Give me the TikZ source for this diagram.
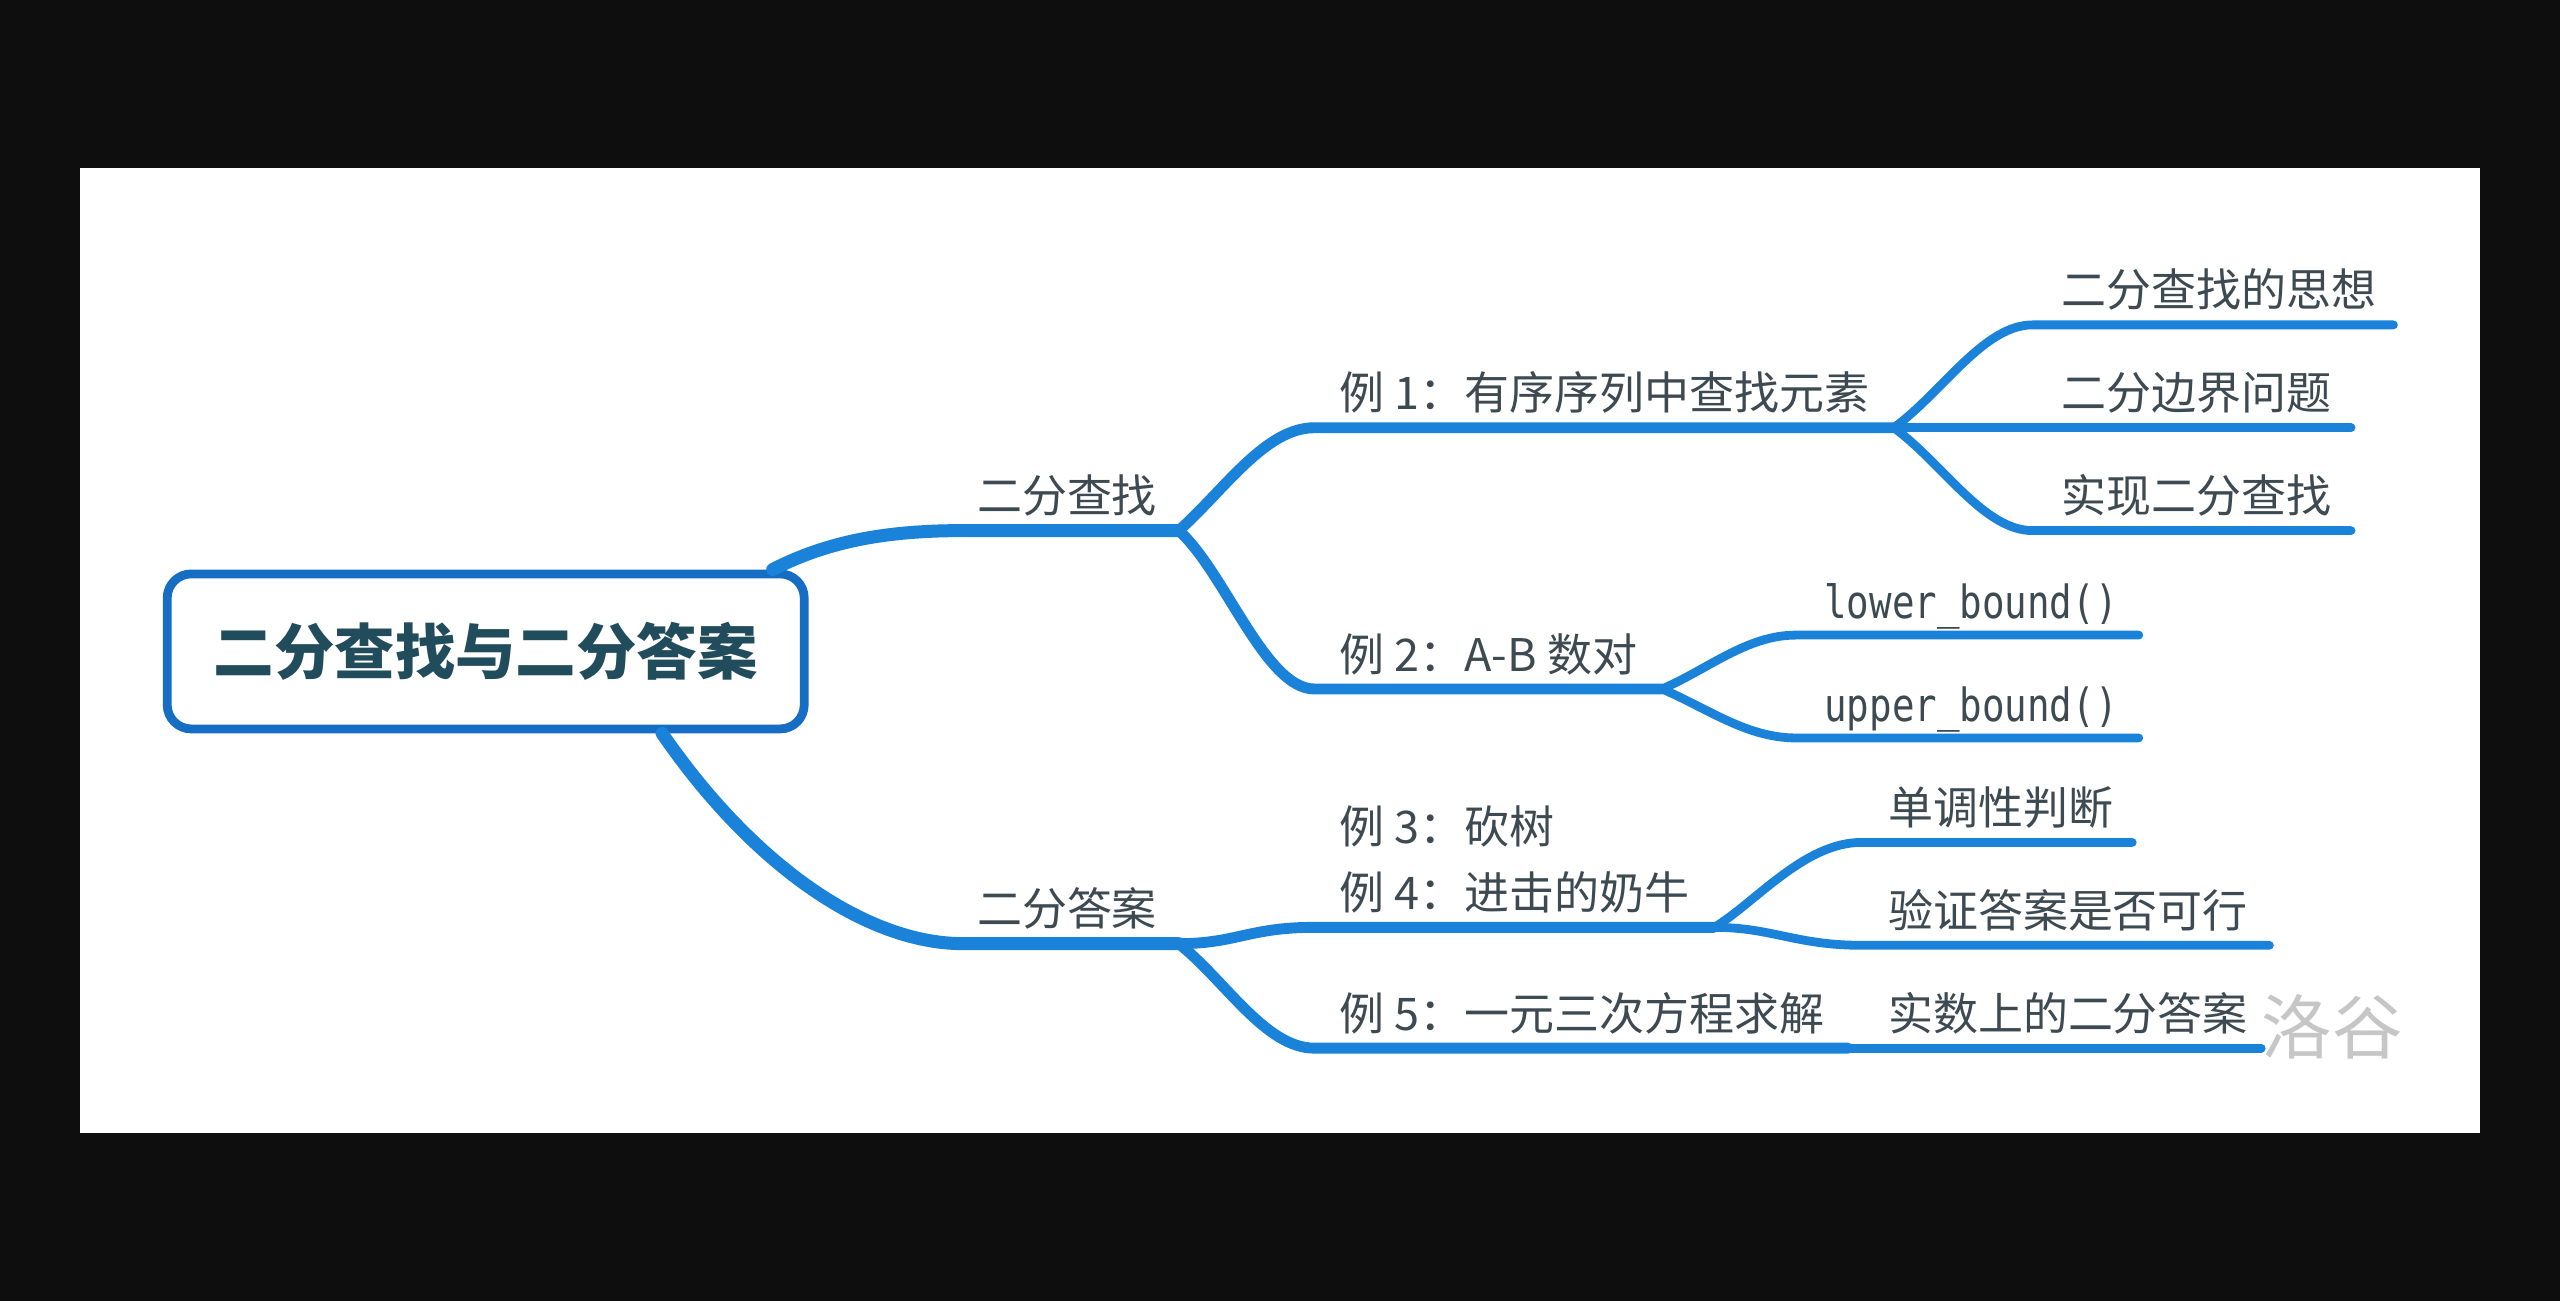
\documentclass[tikz,border=0pt]{standalone}
\usepackage{fontspec}
\usepackage{tikz}
\usetikzlibrary{positioning, calc}

\newfontfamily\cjk{Noto Sans CJK SC}
\newfontfamily\codefont{DejaVu Sans Mono}[FakeStretch=0.82]

\definecolor{framebg}{HTML}{0E0E0E}
\definecolor{lineblue}{HTML}{1A82D8}
\definecolor{rootblue}{HTML}{166EC4}
\definecolor{roottxt}{HTML}{214C5C}
\definecolor{txtgray}{HTML}{3D4A52}

\begin{document}
\begin{tikzpicture}[
	x=0.16327mm, y=-0.16327mm,
	font=\cjk,
	% Styles
	rootbox/.style={draw=rootblue, line width=2.5pt, rounded corners=2.4mm, fill=white, minimum width=63.7mm, minimum height=15.5mm, text=roottxt, font=\cjk\bfseries\fontsize{17.2}{20}\selectfont},
	topic/.style={anchor=base west, inner sep=0pt, text=txtgray, font=\cjk\fontsize{12.8}{19}\selectfont},
	code/.style={topic, font=\codefont\fontsize{13}{19}\selectfont},
	mainline/.style={draw=lineblue, line width=3.7pt, line cap=round},
	subline/.style={draw=lineblue, line width=3.1pt, line cap=round},
	leafline/.style={draw=lineblue, line width=2.5pt, line cap=round}
	]
	
	% --- Frame ---
	\useasboundingbox (0,0) rectangle (1568,797);
	\fill[framebg] (0,0) rectangle (1568,797);
	\fill[white] (49,103) rectangle (1519,694);
	
	% --- Root ---
	\node[rootbox] (root) at (297.5,399) {二分查找与二分答案};
	\coordinate (root-up) at ($(root.north east)+(-22,0)$);
	\coordinate (root-dn) at ($(root.south)+(108,0)$);
	
	% --- 1. 二分查找 ---
	\coordinate (search-s) at (590,325);
	\coordinate (search-e) at (722,325);
	\node[topic] (search) at (598,314) {二分查找};
	\draw[mainline] (root-up) .. controls +(35,-18) and +(-45,0) .. (search-s) -- (search-e);
	
	% example 1 and its leaves
	\coordinate (ex1-s) at (805,262);
	\coordinate (ex1-e) at (1160,262);
	\node[topic] (ex1) at (820,251) {例 1：有序序列中查找元素};
	\draw[subline] (search-e) .. controls +(28,-25) and +(-30,0) .. (ex1-s) -- (ex1-e);
	
	\coordinate (idea-s) at (1245,199);
	\coordinate (idea-e) at (1466,199);
	\coordinate (edge-e) at (1440,262);
	\coordinate (impl-s) at (1245,325);
	\coordinate (impl-e) at (1440,325);
	\node[topic] (idea) at (1262,188) {二分查找的思想};
	\node[topic] (edge) at (1262,251) {二分边界问题};
	\node[topic] (impl) at (1262,314) {实现二分查找};
	\draw[leafline] (ex1-e) .. controls +(30,-22) and +(-30,0) .. (idea-s) -- (idea-e);
	\draw[leafline] (ex1-e) -- (edge-e);
	\draw[leafline] (ex1-e) .. controls +(30,22) and +(-30,0) .. (impl-s) -- (impl-e);
	
	% example 2 and its leaves
	\coordinate (ex2-s) at (805,422);
	\coordinate (ex2-e) at (1018,422);
	\node[topic] (ex2) at (820,411) {例 2：A-B 数对};
	\draw[subline] (search-e) .. controls +(28,25) and +(-30,0) .. (ex2-s) -- (ex2-e);
	
	\coordinate (lower-s) at (1100,389);
	\coordinate (lower-e) at (1310,389);
	\coordinate (upper-s) at (1100,452);
	\coordinate (upper-e) at (1310,452);
	\node[code] (lower) at (1117,379) {lower\_bound()};
	\node[code] (upper) at (1117,442) {upper\_bound()};
	\draw[leafline] (ex2-e) .. controls +(28,-12) and +(-30,0) .. (lower-s) -- (lower-e);
	\draw[leafline] (ex2-e) .. controls +(28,12) and +(-30,0) .. (upper-s) -- (upper-e);
	
	% --- 2. 二分答案 ---
	\coordinate (answer-s) at (590,578);
	\coordinate (answer-e) at (722,578);
	\node[topic] (answer) at (598,567) {二分答案};
	\draw[mainline] (root-dn) .. controls +(55,80) and +(-60,0) .. (answer-s) -- (answer-e);
	
	% examples 3 and 4 share one topic
	\coordinate (ex34-s) at (805,568);
	\coordinate (ex34-e) at (1050,568);
	\node[topic, anchor=south west, align=left] (ex34) at (820,560) {例 3：砍树\\例 4：进击的奶牛};
	\draw[subline] (answer-e) .. controls +(35,0) and +(-40,0) .. (ex34-s) -- (ex34-e);
	
	\coordinate (mono-s) at (1140,516);
	\coordinate (mono-e) at (1306,516);
	\coordinate (check-s) at (1140,579);
	\coordinate (check-e) at (1390,579);
	\node[topic] (mono) at (1156,505) {单调性判断};
	\node[topic] (check) at (1156,568) {验证答案是否可行};
	\draw[leafline] (ex34-e) .. controls +(25,-15) and +(-35,0) .. (mono-s) -- (mono-e);
	\draw[leafline] (ex34-e) .. controls +(35,0) and +(-40,0) .. (check-s) -- (check-e);
	
	% example 5
	\coordinate (ex5-s) at (805,642);
	\coordinate (ex5-e) at (1132,642);
	\coordinate (real-e) at (1385,642);
	\node[topic] (ex5) at (820,631) {例 5：一元三次方程求解};
	\node[topic] (real) at (1156,631) {实数上的二分答案};
	\draw[subline] (answer-e) .. controls +(28,22) and +(-30,0) .. (ex5-s) -- (ex5-e);
	\draw[leafline] (ex5-e) -- (real-e);
	
	% watermark
	\node[anchor=base west, inner sep=0pt, text=gray!45, font=\cjk\fontsize{20}{20}\selectfont] (mark) at (1385,645) {洛谷};
	
\end{tikzpicture}
\end{document}
